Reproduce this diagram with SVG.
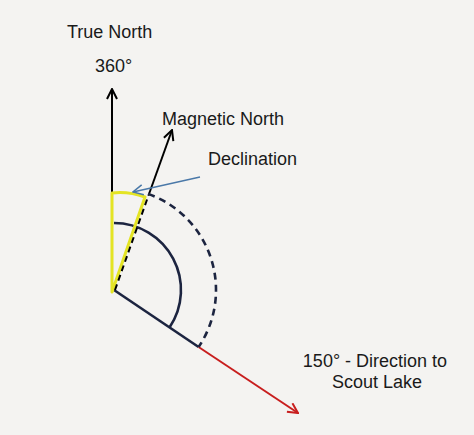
<svg xmlns="http://www.w3.org/2000/svg" width="474" height="435" viewBox="0 0 474 435">
<style>
text{font-family:"Liberation Sans",Arial,sans-serif;font-size:18px;fill:#1a1a1a}
.blk{stroke:#000;stroke-width:2;fill:none}
.navy{stroke:#1c2440;stroke-width:2.6;fill:none}
</style>
<defs>
<marker id="ah" viewBox="0 0 12 12" refX="11" refY="6" markerWidth="12" markerHeight="12" markerUnits="userSpaceOnUse" orient="auto"><path d="M1,1 L11,6 L1,11" fill="none" stroke="#000" stroke-width="2"/></marker>
<marker id="ahr" viewBox="0 0 12 12" refX="11" refY="6" markerWidth="12" markerHeight="12" markerUnits="userSpaceOnUse" orient="auto"><path d="M1,1 L11,6 L1,11" fill="none" stroke="#c81e1e" stroke-width="2"/></marker>
<marker id="ahb" viewBox="0 0 12 12" refX="11" refY="6" markerWidth="12" markerHeight="12" markerUnits="userSpaceOnUse" orient="auto"><path d="M1,1 L11,6 L1,11" fill="none" stroke="#4a78a8" stroke-width="1.5"/></marker>
</defs>
<rect width="474" height="435" fill="#f4f3f1"/>
<g id="connectors">
<path id="true-north" class="blk" d="M112,292 L112,89" marker-end="url(#ah)"/>
<path id="dir-black" class="navy" d="M114,290 L198.6,347"/>
<path id="dir-red" d="M198.6,347 L298,413" stroke="#c81e1e" stroke-width="2" fill="none" marker-end="url(#ahr)"/>
<path id="inner-arc" class="navy" d="M114,223 A67,67 0 0 1 169.5,327.5"/>
<path id="declination-wedge" d="M112,292 L112,193 Q128,191 145,197 Z" fill="none" stroke="#e4e424" stroke-width="3" stroke-linejoin="round"/>
<path id="mag-north-dashed" class="blk" d="M115,290 L149,194" stroke-dasharray="6,4"/>
<path id="mag-north" class="blk" d="M149,194 L172,130" marker-end="url(#ah)"/>
<path id="outer-arc" class="navy" stroke-dasharray="7,5" d="M148.2,193.9 A102,102 0 0 1 198.6,347"/>
<path id="declination-pointer" d="M200,177 L133,192" stroke="#4a78a8" stroke-width="1.3" fill="none" marker-end="url(#ahb)"/>
</g>
<g id="label-true-north"><text x="67" y="38">True North</text></g>
<g id="label-360"><text x="95" y="72">360°</text></g>
<g id="label-magnetic-north"><text x="162" y="125">Magnetic North</text></g>
<g id="label-declination"><text x="208" y="165">Declination</text></g>
<g id="label-direction"><text x="375" y="367" text-anchor="middle">150° - Direction to</text><text x="377" y="388" text-anchor="middle">Scout Lake</text></g>
</svg>
